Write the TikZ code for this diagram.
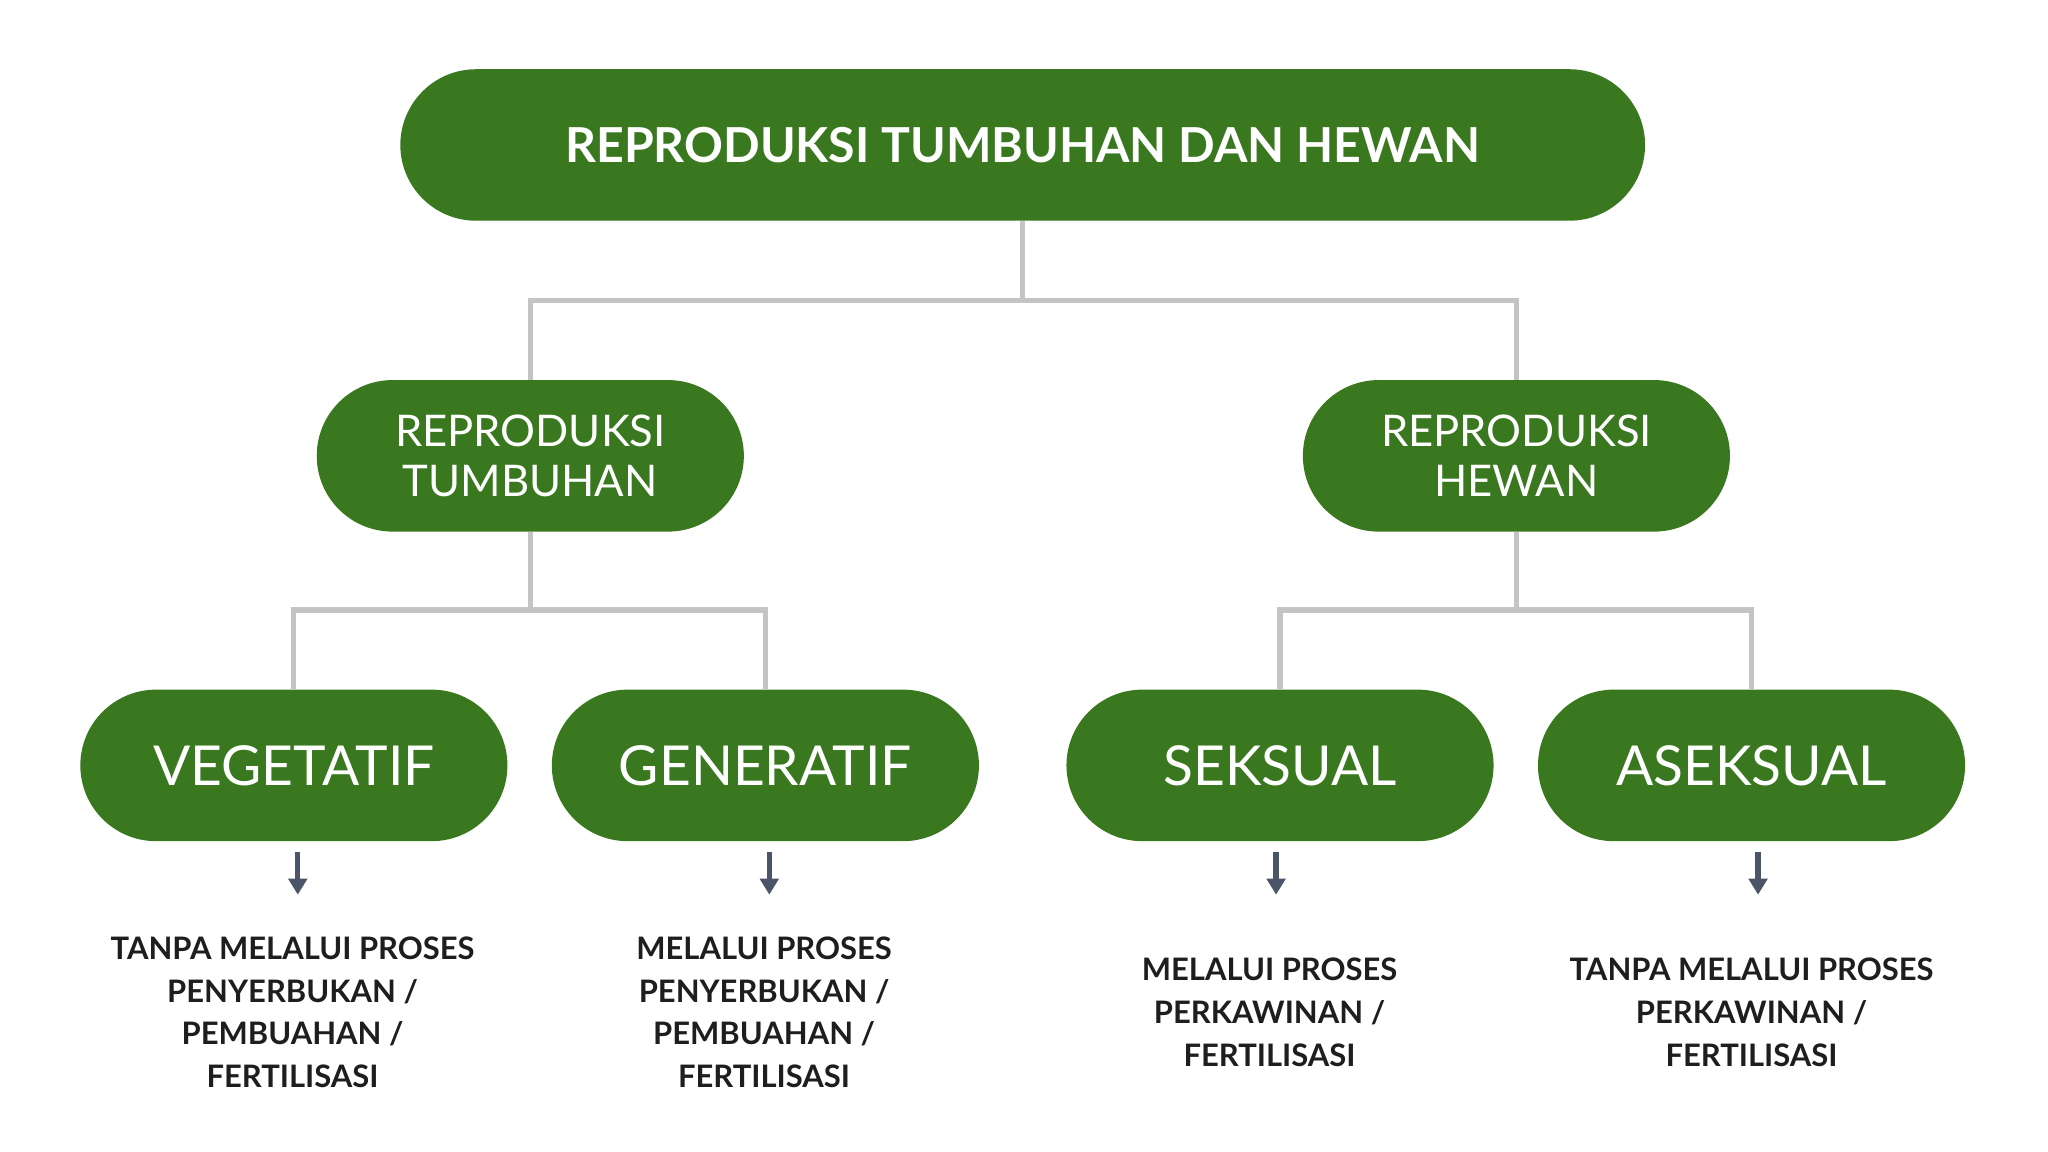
\documentclass[tikz,border=0pt]{standalone}
\usepackage{fontspec}
\setmainfont{Lato}
\usetikzlibrary{arrows.meta}
\definecolor{leaf}{HTML}{3A7820}
\definecolor{linegray}{HTML}{C4C4C4}
\definecolor{arr}{HTML}{4A5568}
\definecolor{txt}{HTML}{1E1E1E}
\begin{document}
\begin{tikzpicture}[x=0.02cm,y=-0.02cm,
  pill/.style={fill=leaf,rounded corners=58*0.02cm,minimum height=116*0.02cm,text=white,align=center,inner sep=0pt},
  conn/.style={draw=linegray,line width=4*0.02cm},
  down/.style={draw=arr,line width=4*0.02cm,-{Triangle[length=7pt,width=8pt]}},
  note/.style={text=txt,align=center,font=\bfseries\fontsize{13.5}{18.7}\selectfont}]
\useasboundingbox (0,0) rectangle (1568,882);
\fill[white] (0,0) rectangle (1568,882);
\node[pill,minimum width=953*0.02cm,font=\bfseries\fontsize{21}{25}\selectfont] (top) at (783,111) {REPRODUKSI TUMBUHAN DAN HEWAN};
\node[pill,minimum width=327*0.02cm,font=\fontsize{19}{22}\selectfont] (tum) at (406,349) {REPRODUKSI\\TUMBUHAN};
\node[pill,minimum width=327*0.02cm,font=\fontsize{19}{22}\selectfont] (hew) at (1161,349) {REPRODUKSI\\HEWAN};
\foreach \n/\x/\t in {veg/225/VEGETATIF,gen/586/GENERATIF,sek/980/SEKSUAL,ase/1341/ASEKSUAL}
  \node[pill,minimum width=327*0.02cm,font=\fontsize{24}{28}\selectfont] (\n) at (\x,586) {\t};
\coordinate (j1) at (783,230);
\draw[conn] (top.south) -- (j1) -| (tum.north);
\draw[conn] (j1) -| (hew.north);
\coordinate (j2) at (406,467);
\draw[conn] (tum.south) -- (j2) -| (veg.north);
\draw[conn] (j2) -| (gen.north);
\coordinate (j3) at (1161,467);
\draw[conn] (hew.south) -- (j3) -| (sek.north);
\draw[conn] (j3) -| (ase.north);
\foreach \n/\x in {veg/228,gen/589,sek/977,ase/1346}{
  \coordinate (\n a) at (\x,652); \coordinate (\n b) at (\x,685);
  \draw[down] (\n a) -- (\n b);}
\node[note] (t1) at (224,775) {TANPA MELALUI PROSES\\PENYERBUKAN /\\PEMBUAHAN /\\FERTILISASI};
\node[note] (t2) at (585,775) {MELALUI PROSES\\PENYERBUKAN /\\PEMBUAHAN /\\FERTILISASI};
\node[note] (t3) at (972,775) {MELALUI PROSES\\PERKAWINAN /\\FERTILISASI};
\node[note] (t4) at (1341,775) {TANPA MELALUI PROSES\\PERKAWINAN /\\FERTILISASI};
\end{tikzpicture}
\end{document}
